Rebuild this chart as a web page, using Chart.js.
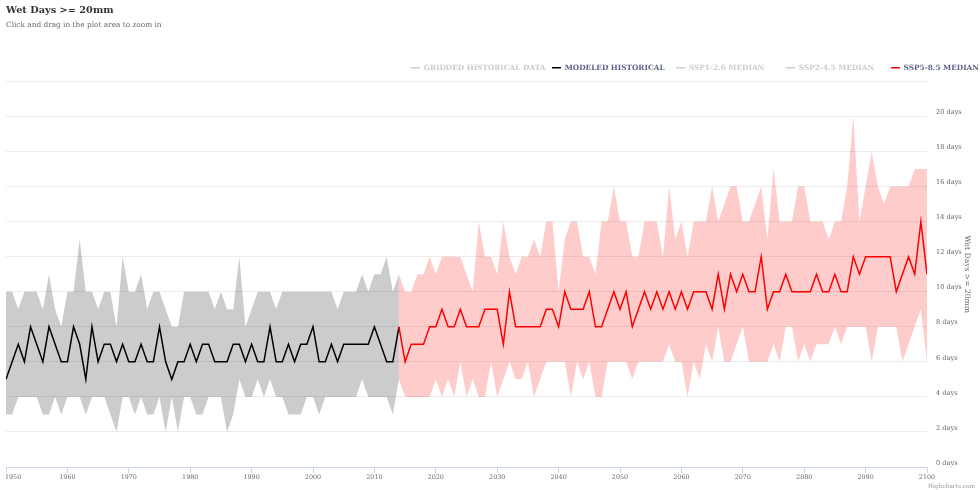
<!DOCTYPE html>
<html>
<head>
<meta charset="utf-8">
<title>Wet Days >= 20mm</title>
<script src="https://cdn.jsdelivr.net/npm/chart.js@4/dist/chart.umd.min.js"></script>
<style>
    html, body { margin: 0; padding: 0; background: #fff; }
    canvas { display: block; }
</style>
</head>
<body>
<canvas id="wetDays" width="980" height="490"></canvas>
<script>
const histYears = [1950,1951,1952,1953,1954,1955,1956,1957,1958,1959,1960,1961,1962,1963,1964,1965,1966,1967,1968,1969,1970,1971,1972,1973,1974,1975,1976,1977,1978,1979,1980,1981,1982,1983,1984,1985,1986,1987,1988,1989,1990,1991,1992,1993,1994,1995,1996,1997,1998,1999,2000,2001,2002,2003,2004,2005,2006,2007,2008,2009,2010,2011,2012,2013,2014];
const histMedian = [5,6,7,6,8,7,6,8,7,6,6,8,7,5,8,6,7,7,6,7,6,6,7,6,6,8,6,5,6,6,7,6,7,7,6,6,6,7,7,6,7,6,6,8,6,6,7,6,7,7,8,6,6,7,6,7,7,7,7,7,8,7,6,6,8];
const histUpper = [10,10,9,10,10,10,9,11,9,8,10,10,13,10,10,9,10,10,8,12,10,10,11,9,10,10,9,8,8,10,10,10,10,10,9,10,9,9,12,8,9,10,10,10,9,10,10,10,10,10,10,10,10,10,9,10,10,10,11,10,11,11,12,10,11];
const histLower = [3,3,4,4,4,4,3,3,4,3,4,4,4,3,4,4,4,3,2,4,4,3,4,3,3,4,2,4,2,4,4,3,3,4,4,4,2,3,5,4,4,5,4,5,4,4,3,3,3,4,4,3,4,4,4,4,4,4,5,4,4,4,4,3,5];

const futureYears = [2014,2015,2016,2017,2018,2019,2020,2021,2022,2023,2024,2025,2026,2027,2028,2029,2030,2031,2032,2033,2034,2035,2036,2037,2038,2039,2040,2041,2042,2043,2044,2045,2046,2047,2048,2049,2050,2051,2052,2053,2054,2055,2056,2057,2058,2059,2060,2061,2062,2063,2064,2065,2066,2067,2068,2069,2070,2071,2072,2073,2074,2075,2076,2077,2078,2079,2080,2081,2082,2083,2084,2085,2086,2087,2088,2089,2090,2091,2092,2093,2094,2095,2096,2097,2098,2099,2100];
const futureMedian = [8,6,7,7,7,8,8,9,8,8,9,8,8,8,9,9,9,7,10,8,8,8,8,8,9,9,8,10,9,9,9,10,8,8,9,10,9,10,8,9,10,9,10,9,10,9,10,9,10,10,10,9,11,9,11,10,11,10,10,12,9,10,10,11,10,10,10,10,11,10,10,11,10,10,12,11,12,12,12,12,12,10,11,12,11,14,11];
const futureUpper = [11,10,10,11,11,12,11,12,12,12,12,11,10,14,12,12,11,14,12,11,12,12,13,12,14,14,10,13,14,14,12,12,11,14,14,16,14,14,12,12,14,14,14,12,16,13,14,12,14,14,14,16,14,15,16,16,14,14,15,16,13,17,14,14,14,16,16,14,14,14,13,14,14,16,20,14,16,18,16,15,16,16,16,16,17,17,17];
const futureLower = [5,4,4,4,4,4,5,4,5,4,6,4,5,4,4,6,4,5,6,5,5,6,4,5,6,6,6,6,4,6,5,6,4,4,6,6,6,6,5,6,6,6,6,6,7,6,6,4,6,5,7,6,8,6,6,7,8,6,6,6,6,7,6,8,8,6,7,6,7,7,7,8,7,8,8,8,8,6,8,8,8,8,6,7,8,9,6];

const legendNames = ['GRIDDED HISTORICAL DATA', 'MODELED HISTORICAL', 'SSP1-2.6 MEDIAN', 'SSP2-4.5 MEDIAN', 'SSP5-8.5 MEDIAN'];
const legendLines = ['#cccccc', '#000000', '#cccccc', '#cccccc', '#ff0000'];
const legendTexts = ['#cccccc', '#5a6488', '#cccccc', '#cccccc', '#5a6488'];
// extra no-break spaces after a name, the reference legend spacing is uneven
const legendPads = [0, 2, 6, 4, 0];

const serif = '"DejaVu Serif"';

function points(years, values) {
    return years.map((year, i) => ({ x: year, y: values[i] }));
}

const pagePlugin = {
    id: 'pageExtras',
    afterLayout(chart) {
        // legend runs right up to the page edge
        chart.legend.right += 5.5;
    },
    afterDraw(chart) {
        const ctx = chart.ctx;
        ctx.save();
        ctx.font = '5.8px ' + serif;
        ctx.fillStyle = '#999999';
        ctx.textAlign = 'right';
        ctx.fillText('Highcharts.com', 975, 486);
        ctx.restore();
    }
};

new Chart(document.getElementById('wetDays'), {
    type: 'line',
    plugins: [pagePlugin],
    data: {
        datasets: [
            { data: points(futureYears, futureMedian), borderColor: '#ff0000', borderWidth: 1.5 },
            { data: points(histYears, histMedian), borderColor: '#000000', borderWidth: 1.5 },
            { data: points(histYears, histUpper), borderWidth: 0, fill: '+1', backgroundColor: 'rgba(0,0,0,0.2)' },
            { data: points(histYears, histLower), borderWidth: 0, fill: false },
            { data: points(futureYears, futureUpper), borderWidth: 0, fill: '+1', backgroundColor: 'rgba(255,0,0,0.2)' },
            { data: points(futureYears, futureLower), borderWidth: 0, fill: false }
        ]
    },
    options: {
        responsive: false,
        animation: false,
        layout: { padding: { left: 6, right: 0, top: 5, bottom: 0 } },
        elements: { point: { radius: 0 }, line: { tension: 0 } },
        plugins: {
            tooltip: { enabled: false },
            title: {
                display: true,
                text: 'Wet Days >= 20mm',
                align: 'start',
                color: '#333333',
                font: { family: serif, size: 9.75, weight: 'bold' },
                padding: { top: 0, bottom: 4 }
            },
            subtitle: {
                display: true,
                text: 'Click and drag in the plot area to zoom in',
                align: 'start',
                color: '#666666',
                font: { family: serif, size: 7.36, weight: 'normal' },
                padding: { bottom: 28 }
            },
            legend: {
                position: 'top',
                align: 'end',
                onClick: null,
                labels: {
                    boxWidth: 9,
                    boxHeight: 1.5,
                    padding: 6.5,
                    font: { family: serif, size: 7.35, weight: 'bold' },
                    generateLabels: () => legendNames.map((name, i) => ({
                        text: name + '\u00a0'.repeat(legendPads[i]),
                        fillStyle: legendLines[i],
                        strokeStyle: legendLines[i],
                        lineWidth: 0,
                        fontColor: legendTexts[i],
                        hidden: false
                    }))
                }
            }
        },
        scales: {
            x: {
                type: 'linear',
                min: 1950,
                max: 2100,
                border: { color: '#ccd6eb' },
                grid: { drawOnChartArea: false, drawTicks: true, tickLength: 6, color: '#ccd6eb' },
                afterFit(scale) {
                    scale.paddingLeft = 0;
                    scale.paddingRight = 0;
                    scale.height = 23;
                },
                ticks: {
                    stepSize: 10,
                    autoSkip: false,
                    maxRotation: 0,
                    padding: 1,
                    color: '#666666',
                    font: { family: serif, size: 6.4 },
                    // leading spaces push the first label clear of the canvas edge
                    callback: v => (v === 1950 ? '\u00a0\u00a0\u00a0\u00a0\u00a0\u00a0\u00a01950' : String(v))
                }
            },
            y: {
                position: 'right',
                min: 0,
                max: 22,
                border: { display: false },
                grid: { color: '#ececec', drawTicks: false },
                afterFit(scale) {
                    scale.paddingTop = 0;
                    scale.paddingBottom = 0;
                    scale.width = 53;
                },
                title: {
                    display: true,
                    text: 'Wet Days >= 20mm',
                    color: '#666666',
                    font: { family: serif, size: 7.6 },
                    padding: { top: 8, bottom: 0 }
                },
                ticks: {
                    stepSize: 2,
                    padding: 9,
                    labelOffset: -4,
                    color: '#666666',
                    font: { family: serif, size: 6.6 },
                    callback: v => (v === 22 ? '' : v + ' days')
                }
            }
        }
    }
});
</script>
</body>
</html>
